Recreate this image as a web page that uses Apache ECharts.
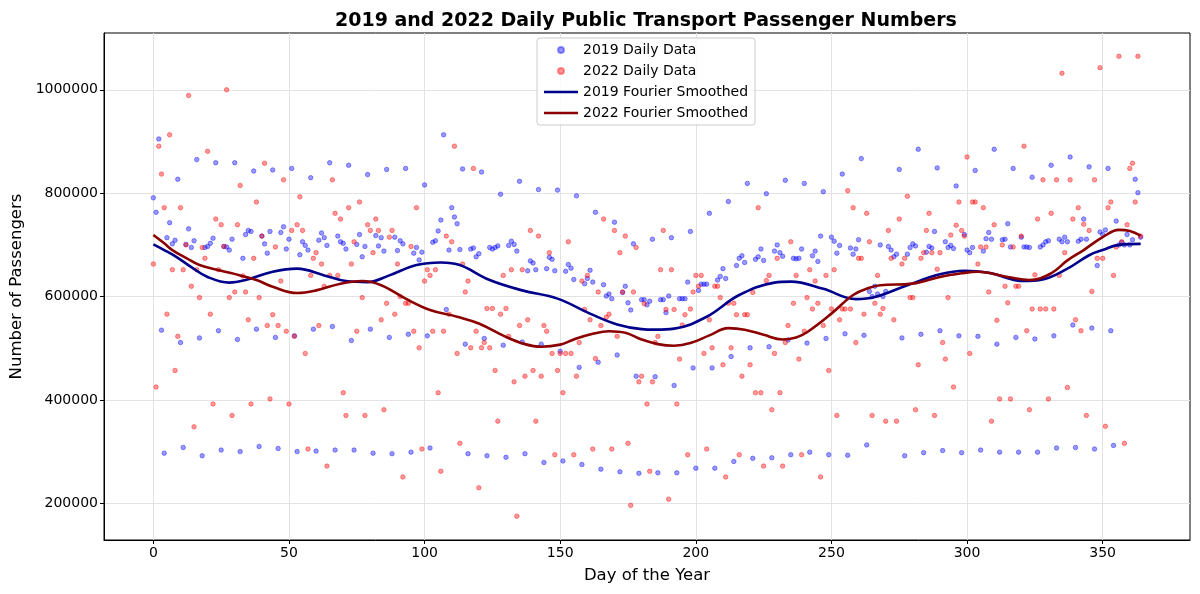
<!DOCTYPE html>
<html>
<head>
<meta charset="utf-8">
<script src="https://cdn.jsdelivr.net/npm/echarts@6/dist/echarts.min.js"></script>
<style>
html,body{margin:0;padding:0;background:#fff;}
#chart{width:1200px;height:594px;}
</style>
</head>
<body>
<div id="chart"></div>
<script>
// Daily passenger counts, index = day of the year (0..364)
const passengers2019 = [
791000,763000,905000,535000,297000,714000,743000,
702000,709000,827000,511000,308000,701000,731000,
695000,708000,865000,520000,292000,695000,697000,
703000,713000,859000,534000,303000,697000,696000,
690000,711000,859000,517000,300000,674000,720000,
728000,726000,843000,537000,310000,717000,702000,
684000,726000,845000,521000,306000,724000,735000,
692000,711000,848000,524000,300000,681000,706000,
699000,690000,830000,537000,301000,709000,723000,
714000,699000,859000,542000,303000,717000,706000,
703000,692000,854000,515000,303000,701000,720000,
677000,697000,836000,537000,297000,718000,698000,
714000,688000,846000,521000,296000,715000,689000,
708000,702000,848000,527000,299000,684000,695000,
671000,686000,816000,524000,307000,705000,708000,
727000,748000,913000,575000,690000,772000,754000,
741000,691000,847000,508000,296000,692000,694000,
677000,683000,841000,519000,292000,695000,692000,
695000,698000,798000,506000,289000,699000,707000,
701000,688000,823000,512000,296000,650000,669000,
665000,652000,807000,508000,279000,654000,676000,
672000,650000,806000,494000,282000,649000,662000,
655000,633000,795000,463000,275000,625000,635000,
651000,628000,763000,473000,266000,623000,601000,
605000,596000,744000,487000,261000,608000,620000,
588000,574000,702000,446000,258000,594000,594000,
584000,591000,711000,445000,259000,594000,594000,
569000,601000,714000,428000,259000,596000,596000,
596000,628000,726000,462000,268000,612000,624000,
624000,624000,761000,462000,268000,632000,639000,
654000,635000,784000,484000,281000,660000,674000,
679000,666000,819000,501000,287000,672000,677000,
692000,670000,799000,503000,288000,688000,700000,
685000,678000,825000,516000,294000,674000,673000,
674000,692000,819000,510000,299000,679000,688000,
668000,717000,803000,519000,294000,715000,707000,
684000,699000,837000,528000,293000,694000,682000,
692000,710000,867000,525000,313000,610000,600000,
620000,605000,700000,600000,610000,697000,690000,
677000,682000,846000,520000,292000,682000,695000,
702000,698000,885000,527000,298000,686000,697000,
694000,726000,849000,534000,302000,706000,695000,
699000,693000,814000,524000,298000,720000,690000,
685000,695000,844000,523000,303000,688000,712000,
724000,711000,885000,508000,299000,710000,711000,
741000,696000,848000,521000,299000,715000,696000,
696000,695000,831000,518000,299000,696000,700000,
706000,708000,854000,524000,307000,711000,706000,
715000,706000,870000,545000,308000,707000,711000,
750000,711000,851000,539000,305000,660000,725000,
720000,729000,848000,534000,312000,746000,700000,
705000,700000,720000,700000,710000,827000,801000,
715000
];
const passengers2022 = [
663000,425000,891000,837000,772000,566000,913000,
652000,457000,523000,772000,652000,700000,989000,
620000,348000,652000,598000,695000,674000,881000,
566000,392000,750000,652000,739000,697000,1000000,
598000,370000,609000,739000,815000,640000,609000,
555000,392000,674000,783000,598000,717000,858000,
544000,402000,565000,696000,544000,630000,826000,
533000,392000,728000,523000,739000,793000,728000,
490000,305000,641000,674000,685000,544000,663000,
620000,272000,641000,826000,761000,641000,750000,
414000,370000,772000,663000,706000,533000,783000,
598000,370000,739000,728000,685000,750000,728000,
555000,381000,587000,715000,728000,566000,663000,
600000,251000,587000,587000,697000,533000,772000,
501000,305000,630000,652000,641000,533000,652000,
414000,262000,533000,717000,566000,706000,891000,
490000,316000,663000,609000,630000,501000,848000,
533000,230000,501000,511000,577000,501000,577000,
457000,359000,566000,641000,577000,523000,652000,
435000,175000,544000,652000,446000,555000,728000,
457000,359000,717000,446000,544000,533000,685000,
490000,294000,457000,490000,414000,490000,706000,
490000,294000,446000,511000,630000,575000,641000,
555000,305000,480000,609000,544000,750000,560000,
566000,305000,728000,523000,685000,609000,717000,
316000,196000,609000,695000,435000,446000,586000,
392000,262000,435000,511000,523000,652000,728000,
575000,208000,652000,575000,392000,479000,545000,
565000,294000,576000,609000,641000,620000,641000,
490000,305000,555000,501000,620000,620000,598000,
468000,251000,587000,501000,587000,565000,294000,
446000,565000,565000,468000,608000,414000,772000,
414000,272000,631000,641000,381000,490000,674000,
414000,272000,511000,544000,706000,587000,641000,
479000,294000,533000,598000,652000,576000,630000,
587000,251000,544000,641000,457000,576000,652000,
370000,555000,576000,576000,805000,576000,772000,
511000,674000,674000,566000,761000,706000,370000,
587000,641000,566000,577000,359000,728000,674000,
555000,359000,750000,663000,674000,794000,598000,
598000,381000,468000,674000,685000,728000,761000,
685000,370000,653000,685000,511000,479000,598000,
719000,425000,738000,783000,728000,717000,870000,
490000,783000,783000,663000,696000,772000,696000,
609000,359000,739000,554000,402000,700000,620000,
588000,402000,696000,620000,620000,717000,891000,
534000,381000,576000,642000,750000,576000,826000,
576000,402000,761000,576000,826000,641000,1032000,
685000,424000,826000,750000,555000,772000,534000,
740000,370000,728000,610000,826000,674000,1043000,
674000,349000,772000,783000,641000,696000,1065000,
706000,316000,739000,848000,858000,783000,1065000,
717000
];
// Fourier-smoothed curves read at selected days
const smoothDays2019 = [0,4,9,14,20,28,34,44,53,63,71,79,87,97,106,113,124,136,149,161,171,180,185,192,204,216,229,235,247,259,266,278,290,299,308,321,327,337,345,350,356,364];
const smooth2019 = [701000,690000,675000,657000,638000,627000,632000,648000,654000,641000,630000,628000,641000,661000,666000,661000,632000,612000,596000,567000,546000,537000,536000,538000,561000,603000,627000,629000,615000,595000,599000,622000,643000,650000,646000,630000,632000,654000,680000,690000,700000,702000];
const smoothDays2022 = [0,4,7,12,17,25,32,38,44,53,60,69,77,84,93,102,112,120,130,137,143,150,155,162,168,174,180,186,192,198,205,212,218,225,232,237,241,250,258,264,268,280,290,298,304,315,323,331,337,343,350,356,360,364];
const smooth2022 = [719000,703000,690000,675000,661000,650000,641000,632000,619000,607000,612000,625000,630000,622000,596000,574000,561000,548000,522000,508000,503000,507000,517000,528000,533000,530000,517000,508000,505000,510000,525000,539000,536000,526000,517000,521000,531000,567000,603000,617000,622000,625000,638000,645000,648000,638000,632000,645000,670000,690000,715000,729000,727000,718000];
const xTicks = [0,50,100,150,200,250,300,350];
const yTicks = [200000,400000,600000,800000,1000000];
const seriesNames = ['2019 Daily Data','2022 Daily Data','2019 Fourier Smoothed','2022 Fourier Smoothed'];
const titleText = '2019 and 2022 Daily Public Transport Passenger Numbers';

const FONT = 'DejaVu Sans';
const pts2019 = passengers2019.map((v, i) => [i, v]);
const pts2022 = passengers2022.map((v, i) => [i, v]);
const line2019 = smoothDays2019.map((d, i) => [d, smooth2019[i]]);
const line2022 = smoothDays2022.map((d, i) => [d, smooth2022[i]]);
const lineIcon = 'path://M0,0 L34,0 L34,2.6 L0,2.6 Z';

const chart = echarts.init(document.getElementById('chart'), null, {renderer: 'canvas'});
chart.setOption({
  animation: false,
  backgroundColor: '#ffffff',
  title: {
    text: titleText,
    left: 330, top: 7,
    textStyle: {fontFamily: FONT, fontSize: 19, fontWeight: 'bold', color: '#000'}
  },
  legend: {
    orient: 'vertical',
    left: 537, top: 38,
    padding: [5, 7, 5, 7],
    itemWidth: 34, itemHeight: 6, itemGap: 7,
    borderColor: '#cccccc', borderWidth: 1, borderRadius: 3,
    backgroundColor: 'rgba(255,255,255,0.8)',
    textStyle: {fontFamily: FONT, fontSize: 14, color: '#000'},
    data: [
      {name: seriesNames[0], icon: 'circle'},
      {name: seriesNames[1], icon: 'circle'},
      {name: seriesNames[2], icon: lineIcon},
      {name: seriesNames[3], icon: lineIcon}
    ]
  },
  grid: {
    left: 104, right: 10, top: 33, bottom: 54,
    show: true, borderColor: '#000', borderWidth: 1,
    outerBoundsMode: 'none', containLabel: false
  },
  xAxis: {
    type: 'value', min: -18.2, max: 382.2,
    name: 'Day of the Year', nameLocation: 'middle', nameGap: 27,
    nameTextStyle: {fontFamily: FONT, fontSize: 16.5, color: '#000'},
    axisLine: {show: true, onZero: false, lineStyle: {color: '#000', width: 1}},
    axisTick: {show: true, length: 4, lineStyle: {color: '#000'}, customValues: xTicks},
    axisLabel: {fontFamily: FONT, fontSize: 14, color: '#000', margin: 6, customValues: xTicks,
      formatter: v => String(v)},
    splitLine: {show: true, lineStyle: {color: '#e3e3e3', width: 1}}
  },
  yAxis: {
    type: 'value', min: 129000, max: 1110000,
    name: 'Number of Passengers', nameLocation: 'middle', nameGap: 70,
    nameTextStyle: {fontFamily: FONT, fontSize: 16.5, color: '#000'},
    axisLine: {show: true, onZero: false, lineStyle: {color: '#000', width: 1}},
    axisTick: {show: true, length: 4, lineStyle: {color: '#000'}, customValues: yTicks},
    axisLabel: {fontFamily: FONT, fontSize: 14, color: '#000', margin: 6, customValues: yTicks,
      formatter: v => String(v)},
    splitLine: {show: true, lineStyle: {color: '#e3e3e3', width: 1}}
  },
  series: [
    {
      name: seriesNames[0], type: 'scatter', data: pts2019,
      symbol: 'circle', symbolSize: 4.5,
      itemStyle: {color: '#0000ff', opacity: 0.4, borderColor: '#0000ff', borderWidth: 1},
      z: 2
    },
    {
      name: seriesNames[1], type: 'scatter', data: pts2022,
      symbol: 'circle', symbolSize: 4.5,
      itemStyle: {color: '#ff0000', opacity: 0.4, borderColor: '#ff0000', borderWidth: 1},
      z: 2
    },
    {
      name: seriesNames[2], type: 'line', data: line2019,
      symbol: 'none', smooth: 0.4,
      lineStyle: {color: '#00008b', width: 2.6},
      itemStyle: {color: '#00008b'},
      z: 3
    },
    {
      name: seriesNames[3], type: 'line', data: line2022,
      symbol: 'none', smooth: 0.4,
      lineStyle: {color: '#8b0000', width: 2.6},
      itemStyle: {color: '#8b0000'},
      z: 3
    }
  ]
});
</script>
</body>
</html>
